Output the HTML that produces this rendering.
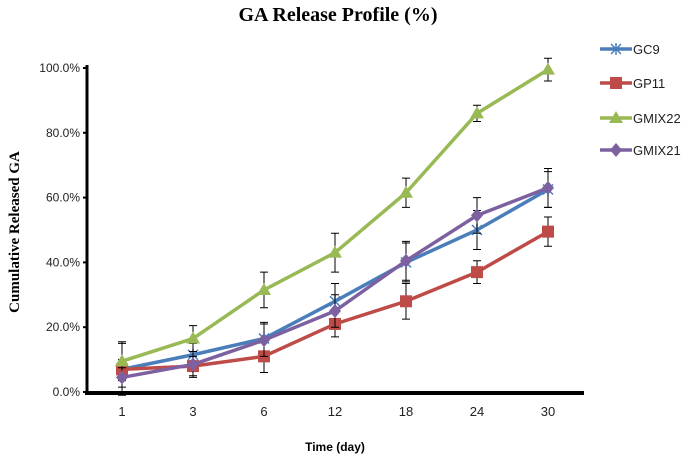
<!DOCTYPE html>
<html><head><meta charset="utf-8"><style>
html,body{margin:0;padding:0;background:#fff;width:685px;height:458px;overflow:hidden}
svg{display:block}
</style></head><body>
<svg id="chart" width="685" height="458" xmlns="http://www.w3.org/2000/svg">
<text x="338" y="21" text-anchor="middle" font-family="Liberation Serif, serif" font-weight="bold" font-size="20">GA Release Profile (%)</text>
<text transform="translate(19,232) rotate(-90)" text-anchor="middle" font-family="Liberation Serif, serif" font-weight="bold" font-size="15">Cumulative Released GA</text>
<text x="335" y="451" text-anchor="middle" font-family="Liberation Sans, sans-serif" font-weight="bold" font-size="12">Time (day)</text>
<g id="grid"></g><g id="series"></g><g id="legend"></g>
</svg>
<script>
const categories=["1","3","6","12","18","24","30"];
const yTicks=[0,20,40,60,80,100];
const gc9=[7,11.5,16.5,28,40,50,62.5];
const gc9Err=[8,3.5,5,5.5,6,6,5.5];
const gp11=[7,8,11,21,28,37,49.5];
const gp11Err=[3,3,5,4,5.5,3.5,4.5];
const gmix22=[9.5,16.5,31.5,43,61.5,86,99.5];
const gmix22Err=[6,4,5.5,6,4.5,2.5,3.5];
const gmix21=[4.5,8.5,16,25,40.5,54.5,63];
const gmix21Err=[3,4,5,5,6,5.5,6];
const NS="http://www.w3.org/2000/svg";
const x0=87,x1=584,yBot=392,yTop=68;
const xs=i=>122+i*(548-122)/(categories.length-1);
const ys=v=>yBot-(v/100)*(yBot-yTop);
function mk(t,a,p){const e=document.createElementNS(NS,t);for(const k in a)e.setAttribute(k,a[k]);p.appendChild(e);return e;}
const g=document.getElementById('grid');
yTicks.forEach(t=>{
  const tx=mk('text',{x:80,y:ys(t)+4,'text-anchor':'end','font-family':'Liberation Sans, sans-serif','font-size':12,fill:'#222'},g);
  
  
  tx.textContent=t.toFixed(1)+'%';
  const tk=mk('line',{x1:x0-4,x2:x0,y1:ys(t),y2:ys(t),stroke:'#000','stroke-width':2},g);
  
  
});
categories.forEach((c,i)=>{
  const tx=mk('text',{x:xs(i),y:416,'text-anchor':'middle','font-family':'Liberation Sans, sans-serif','font-size':13,fill:'#222'},g);
  
  
  tx.textContent=c;
});
const ya=mk('line',{x1:x0,x2:x0,y1:yTop-3,y2:yBot+2,stroke:'#000','stroke-width':3},g);


const xa=mk('line',{x1:x0-2,x2:x1,y1:yBot+1,y2:yBot+1,stroke:'#000','stroke-width':4},g);


function marker(p,type,x,y,col){
  if(type==='x'){mk('path',{d:`M${x-5} ${y-5}L${x+5} ${y+5}M${x-5} ${y+5}L${x+5} ${y-5}M${x} ${y-6}L${x} ${y+6}`,stroke:col,'stroke-width':1.5},p);}
  else if(type==='sq'){mk('rect',{x:x-6,y:y-6,width:12,height:12,fill:col},p);}
  else if(type==='tri'){mk('path',{d:`M${x} ${y-7}L${x+7} ${y+5}L${x-7} ${y+5}Z`,fill:col},p);}
  else{mk('path',{d:`M${x} ${y-7}L${x+6} ${y}L${x} ${y+7}L${x-6} ${y}Z`,fill:col},p);}
}
const S=document.getElementById('series');
const series=[
 ['gc9',gc9,gc9Err,'#4a7ebb','x','GC9',49],
 ['gp11',gp11,gp11Err,'#be4b48','sq','GP11',83],
 ['gmix22',gmix22,gmix22Err,'#98b954','tri','GMIX22',118],
 ['gmix21',gmix21,gmix21Err,'#7d60a0','dia','GMIX21',150]];
const L=document.getElementById('legend');
series.forEach(([n,v,e,col,m,label,ly])=>{
  const grp=mk('g',{},S);
  
  
  v.forEach((d,i)=>{
    const eb=mk('path',{d:`M${xs(i)} ${ys(d-e[i])}L${xs(i)} ${ys(d+e[i])}M${xs(i)-4} ${ys(d-e[i])}L${xs(i)+4} ${ys(d-e[i])}M${xs(i)-4} ${ys(d+e[i])}L${xs(i)+4} ${ys(d+e[i])}`,stroke:'#000','stroke-width':1},grp);
    
    
  });
  const ln=mk('polyline',{points:v.map((d,i)=>xs(i)+','+ys(d)).join(' '),fill:'none',stroke:col,'stroke-width':3.5},grp);
  
  
  v.forEach((d,i)=>marker(grp,m,xs(i),ys(d),col));
  const lg=mk('g',{},L);
  
  
  mk('line',{x1:600,x2:632,y1:ly,y2:ly,stroke:col,'stroke-width':3.5},lg);
  marker(lg,m,616,ly,col);
  const t=mk('text',{x:633,y:ly+5,'font-family':'Liberation Sans, sans-serif','font-size':13,fill:'#222'},lg);
  t.textContent=label;
});
</script>
</body></html>
